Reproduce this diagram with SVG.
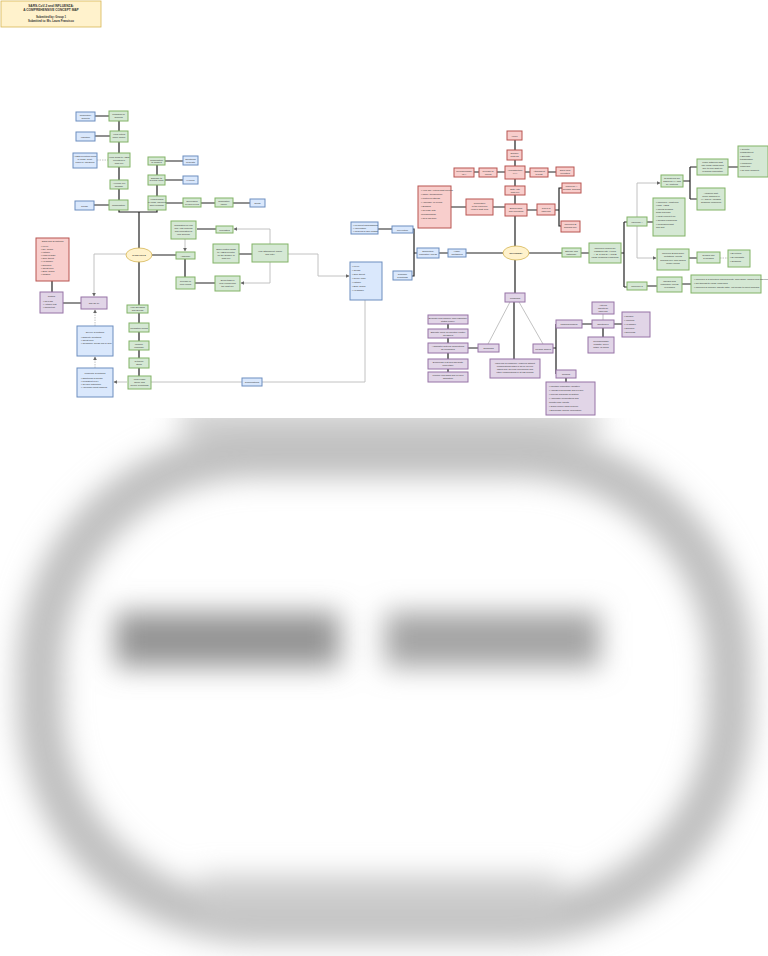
<svg xmlns="http://www.w3.org/2000/svg" width="768" height="956" viewBox="0 0 768 956">
<style>
.g{fill:#d5e8d4;stroke:#82b366;stroke-width:1}
.b{fill:#dae8fc;stroke:#6c8ebf;stroke-width:1}
.r{fill:#f8cecc;stroke:#b85450;stroke-width:1}
.p{fill:#e1d5e7;stroke:#9673a6;stroke-width:1}
.y{fill:#fff2cc;stroke:#d6b656;stroke-width:0.8}
text{font-family:"Liberation Sans",Arial,sans-serif;font-size:2.3px;fill:#333;text-anchor:middle}
.l{text-anchor:start}
.c{stroke:#222;stroke-width:1.2;fill:none}
.cg{stroke:#bbb;stroke-width:0.9;fill:none}
.cd{stroke:#bbb;stroke-width:0.9;fill:none;stroke-dasharray:1.5 1}
</style>
<defs>
<marker id="a" viewBox="0 0 6 6" refX="5" refY="3" markerWidth="4" markerHeight="4" orient="auto"><path d="M0,0 L6,3 L0,6 z" fill="#666"/></marker>
<filter id="bl" x="-20%" y="-20%" width="140%" height="140%"><feGaussianBlur stdDeviation="14"/></filter>
<clipPath id="lower"><rect x="0" y="418" width="768" height="538"/></clipPath>
</defs>
<rect width="768" height="956" fill="#fff"/>
<g id="background-blur" clip-path="url(#lower)"><g filter="url(#bl)">
<rect x="180" y="405" width="420" height="32" fill="#d2d2d2"/>
<rect x="40" y="455" width="690" height="465" rx="215" fill="none" stroke="#c0c0c0" stroke-width="46"/>
<rect x="115" y="612" width="225" height="55" fill="#949494"/>
<rect x="385" y="612" width="215" height="55" fill="#a4a4a4"/>
<rect x="200" y="875" width="360" height="40" fill="#cdcdcd"/>
</g></g>
<g id="title"><rect class="y" x="1" y="1" width="100" height="26"/>
<text x="51" y="7" style="font-weight:bold;font-size:3.2px">SARS-CoV-2 and INFLUENZA:</text>
<text x="51" y="11" style="font-weight:bold;font-size:3.2px">A COMPREHENSIVE CONCEPT MAP</text>
<text x="51" y="18" style="font-weight:bold;font-size:2.8px">Submitted by: Group 1</text>
<text x="51" y="22" style="font-weight:bold;font-size:2.8px">Submitted to: Ms. Laura Francisco</text></g>
<g id="connectors">
<path class="c" d="M95,116H109M95,136H110M119,121V131M119,142V153M119,167V180M119,189V200M94,205H109M157,165V175M157,185V196M119,210V212H157V210M139,212V248"/>
<path class="cd" d="M97,160H108"/>
<path class="c" d="M165,161H183M165,180H183M166,203H183M201,203H215M233,203H250"/>
<path class="c" d="M152,255H176M216,229H197M185,259V277M239,254H252M215,283H195"/>
<path class="cg" d="M185,239V251" marker-end="url(#a)"/>
<path class="cg" d="M270,244V229H234" marker-end="url(#a)"/>
<path class="cg" d="M270,262V283H241" marker-end="url(#a)"/>
<path class="cg" d="M288,254H318V276H349" marker-end="url(#a)"/>
<path class="cg" d="M126,254H94V296" marker-end="url(#a)"/>
<path class="c" d="M52,281V292M63,303H81"/>
<path class="cd" d="M95,326V310" marker-end="url(#a)"/>
<path class="cd" d="M95,368V357" marker-end="url(#a)"/>
<path class="cg" d="M127,382H114" marker-end="url(#a)"/>
<path class="c" d="M139,261V305M139,313V323M139,332V341M139,350V358M139,368V376"/>
<path class="cg" d="M151,382H242M262,382H365V300"/>
<path class="c" d="M378,229H392M413,229H414V276H412M414,253H417M439,253H448M466,253H503"/>
<path class="c" d="M451,207H466M493,207H505M515,140V150M515,160V166M474,172H479M497,172H505M525,172H530M548,172H556M515,179V186M515,195V204M515,216V247M527,210H537M555,210H559V188H562M559,210V226H561"/>
<path class="c" d="M529,253H562M581,253H589M621,253H624M624,222V287M624,222H627M624,287H627"/>
<path class="cg" d="M637,217V183H660" marker-end="url(#a)"/>
<path class="cg" d="M637,226V258H656" marker-end="url(#a)"/>
<path class="c" d="M647,222H653M683,181H690M690,167V199M690,167H697M690,199H697M728,167H738M689,258H697M647,286H657M682,284H691"/>
<path class="cd" d="M720,258H728"/>
<path class="c" d="M515,260V293M514,302V359M478,348H468M448,324V329M448,338V343M448,353V359M448,369V372M553,348H556M556,324V374M582,324H592M603,328V337M614,324H622M566,378V382"/>
<path class="cg" d="M510,302L488,344M519,302L543,344M603,314V320"/>
</g>
<g id="n1"><rect class="b" x="76" y="112" width="19" height="9"/><text x="85.5" y="116">Respiratory</text><text x="85.5" y="119">droplets</text></g>
<g id="n2"><rect class="g" x="109" y="111" width="19" height="10"/><text x="118.5" y="115">Inhalation of</text><text x="118.5" y="118">droplets</text></g>
<g id="n3"><rect class="b" x="76" y="132" width="19" height="9"/><text x="85.5" y="137.5">Ingestion</text></g>
<g id="n4"><rect class="g" x="110" y="131" width="18" height="11"/><text x="119" y="135">Virus enters</text><text x="119" y="138">upper airway</text></g>
<g id="n5"><rect class="b" x="73" y="153" width="24" height="15"/><text x="85" y="157">ACE2 receptors found</text><text x="85" y="160">in lungs, heart,</text><text x="85" y="163">kidneys, intestines</text></g>
<g id="n6"><rect class="g" x="108" y="153" width="22" height="14"/><text x="119" y="158">Virus binds to ACE2</text><text x="119" y="161">receptors in</text><text x="119" y="164">host cell</text></g>
<g id="n7"><rect class="g" x="110" y="180" width="18" height="9"/><text x="119" y="184">Alveolar cell</text><text x="119" y="187">damage</text></g>
<g id="n8"><rect class="b" x="75" y="201" width="19" height="9"/><text x="84.5" y="206.5">Cough</text></g>
<g id="n9"><rect class="g" x="109" y="200" width="19" height="10"/><text x="118.5" y="205.5">Inflammation</text></g>
<g id="n10"><rect class="g" x="148" y="157" width="17" height="8"/><text x="156.5" y="160.5">Inflammation</text><text x="156.5" y="163">of airways</text></g>
<g id="n11"><rect class="b" x="183" y="156" width="15" height="9"/><text x="190.5" y="160">Shortness</text><text x="190.5" y="163">of breath</text></g>
<g id="n12"><rect class="g" x="148" y="175" width="17" height="10"/><text x="156.5" y="178.5">Damage to</text><text x="156.5" y="181">alveolar walls</text></g>
<g id="n13"><rect class="b" x="183" y="176" width="15" height="8"/><text x="190.5" y="181">Hypoxia</text></g>
<g id="n14"><rect class="g" x="148" y="196" width="18" height="14"/><text x="157" y="200">Fluid buildup</text><text x="157" y="203">in lungs, impaired</text><text x="157" y="206">gas exchange</text></g>
<g id="n15"><rect class="g" x="183" y="198" width="18" height="9"/><text x="192" y="201.5">Decreased</text><text x="192" y="204.5">oxygen levels</text></g>
<g id="n16"><rect class="g" x="215" y="198" width="18" height="9"/><text x="224" y="201.5">Respiratory</text><text x="224" y="204.5">failure</text></g>
<g id="n17"><rect class="b" x="250" y="199" width="15" height="8"/><text x="257.5" y="204">Death</text></g>
<g id="sars"><ellipse class="y" cx="139" cy="255" rx="13" ry="7"/><text x="139" y="256" style="font-weight:bold">SARS-CoV-2</text></g>
<g id="n18"><rect class="g" x="171" y="221" width="25" height="18"/><text x="183.5" y="226">Translation of viral</text><text x="183.5" y="229">RNA into proteins</text><text x="183.5" y="232">and replication of</text><text x="183.5" y="235">viral genome</text></g>
<g id="n19"><rect class="g" x="216" y="226" width="17" height="7"/><text x="224.5" y="230.5">Uncoating</text></g>
<g id="n20"><rect class="g" x="176" y="252" width="19" height="7"/><text x="185.5" y="256.5">Assembly</text></g>
<g id="n21"><rect class="g" x="213" y="244" width="26" height="19"/><text x="226" y="250">Spike protein binds</text><text x="226" y="253">to ACE2 receptor</text><text x="226" y="256">on the surface of</text><text x="226" y="259">host cell</text></g>
<g id="n22"><rect class="g" x="252" y="244" width="36" height="18"/><text x="270" y="252">Viral attachment, fusion</text><text x="270" y="255">and entry</text></g>
<g id="n23"><rect class="g" x="176" y="277" width="19" height="12"/><text x="185.5" y="282">Release of</text><text x="185.5" y="285">new virions</text></g>
<g id="n24"><rect class="g" x="215" y="276" width="25" height="15"/><text x="227.5" y="281">Exocytosis of</text><text x="227.5" y="284">new virions from</text><text x="227.5" y="287">the host cell</text></g>
<g id="n25"><rect class="r" x="36" y="238" width="33" height="43"/><text x="52.5" y="242">Signs and Symptoms</text><text class="l" x="41" y="247">• Fever</text><text class="l" x="41" y="250">• Dry cough</text><text class="l" x="41" y="253">• Fatigue</text><text class="l" x="41" y="256">• Loss of taste</text><text class="l" x="41" y="259">• Sore throat</text><text class="l" x="41" y="262">• Headache</text><text class="l" x="41" y="266">• Diarrhea</text><text class="l" x="41" y="269">• Chest pain</text><text class="l" x="41" y="272">• Body aches</text><text class="l" x="41" y="275">• Rashes</text></g>
<g id="n26"><rect class="p" x="40" y="292" width="23" height="21"/><text x="51.5" y="297">Testing</text><text class="l" x="43" y="302">• RT-PCR</text><text class="l" x="43" y="305">• Antigen test</text><text class="l" x="43" y="308">• Rapid test</text></g>
<g id="n27"><rect class="p" x="81" y="297" width="26" height="12"/><text x="94" y="304">COVID-19</text></g>
<g id="n28"><rect class="b" x="77" y="326" width="36" height="30"/><text x="95" y="333">Severe symptoms</text><text class="l" x="81" y="338">• Difficulty breathing</text><text class="l" x="81" y="341">• Chest pain</text><text class="l" x="81" y="344">• Confusion, bluish lips or face</text></g>
<g id="n29"><rect class="b" x="77" y="368" width="36" height="29"/><text x="95" y="374">Moderate symptoms</text><text class="l" x="81" y="379">• Shortness of breath</text><text class="l" x="81" y="382">• Persistent fever</text><text class="l" x="81" y="385">• Oxygen saturation</text><text class="l" x="81" y="388">• Abnormal chest imaging</text></g>
<g id="n30"><rect class="g" x="127" y="305" width="21" height="8"/><text x="137.5" y="307.8">Viral shedding</text><text x="137.5" y="310.5">and spread</text></g>
<g id="n31"><rect class="g" x="129" y="323" width="20" height="9"/><text x="139" y="328.5">Incubation period</text></g>
<g id="n32"><rect class="g" x="129" y="341" width="20" height="9"/><text x="139" y="344.5">Immune</text><text x="139" y="347.5">response</text></g>
<g id="n33"><rect class="g" x="129" y="358" width="20" height="10"/><text x="139" y="362">Cytokine</text><text x="139" y="365">storm</text></g>
<g id="n34"><rect class="g" x="128" y="376" width="23" height="13"/><text x="139.5" y="380">Multi-organ</text><text x="139.5" y="383">failure and</text><text x="139.5" y="386">severe symptoms</text></g>
<g id="n35"><rect class="b" x="242" y="378" width="20" height="8"/><text x="252" y="383">Complications</text></g>
<g id="n36"><rect class="b" x="351" y="222" width="27" height="12"/><text class="l" x="353" y="226">• Frequent handwashing</text><text class="l" x="353" y="229">• Vaccination</text><text class="l" x="353" y="232">• Wearing of face masks</text></g>
<g id="n37"><rect class="b" x="392" y="226" width="21" height="7"/><text x="402.5" y="230.5">Prevention</text></g>
<g id="n38"><rect class="b" x="350" y="262" width="32" height="38"/><text class="l" x="352" y="267">• Fever</text><text class="l" x="352" y="271">• Cough</text><text class="l" x="352" y="275">• Sore throat</text><text class="l" x="352" y="279">• Runny nose</text><text class="l" x="352" y="283">• Fatigue</text><text class="l" x="352" y="287">• Body aches</text><text class="l" x="352" y="291">• Headache</text></g>
<g id="n39"><rect class="b" x="393" y="271" width="19" height="9"/><text x="402.5" y="275">Common</text><text x="402.5" y="278">symptoms</text></g>
<g id="n40"><rect class="b" x="417" y="248" width="22" height="10"/><text x="428" y="252">Similarities:</text><text x="428" y="255">respiratory illness</text></g>
<g id="n41"><rect class="b" x="448" y="249" width="18" height="8"/><text x="457" y="252">Highly</text><text x="457" y="255">contagious</text></g>
<g id="influenza"><ellipse class="y" cx="516" cy="253" rx="13" ry="7"/><text x="516" y="254" style="font-weight:bold">INFLUENZA</text></g>
<g id="n42"><rect class="r" x="418" y="186" width="33" height="42"/><text class="l" x="421" y="191">• Viral RNA enters host nucleus</text><text class="l" x="421" y="195">• mRNA transcription</text><text class="l" x="421" y="199">• Protein synthesis</text><text class="l" x="421" y="203">• Assembly of virions</text><text class="l" x="421" y="207">• Budding</text><text class="l" x="421" y="211">• Release with</text><text class="l" x="421" y="215">  neuraminidase</text><text class="l" x="421" y="219">• New infection</text></g>
<g id="n43"><rect class="r" x="466" y="199" width="27" height="16"/><text x="479.5" y="204">Replication</text><text x="479.5" y="207">of the influenza</text><text x="479.5" y="210">virus in host cells</text></g>
<g id="n44"><rect class="r" x="507" y="131" width="15" height="9"/><text x="514.5" y="136.5">Virion</text></g>
<g id="n45"><rect class="r" x="507" y="150" width="15" height="10"/><text x="514.5" y="154">Surface</text><text x="514.5" y="157">proteins</text></g>
<g id="n46"><rect class="r" x="454" y="168" width="20" height="9"/><text x="464" y="171.5">Neuraminidase</text><text x="464" y="174.5">(NA)</text></g>
<g id="n47"><rect class="r" x="479" y="168" width="18" height="9"/><text x="488" y="171.5">Release of</text><text x="488" y="174.5">virions</text></g>
<g id="n48"><rect class="r" x="505" y="166" width="20" height="13"/><text x="515" y="170.5">Hemagglutinin</text><text x="515" y="173.5">(HA)</text></g>
<g id="n49"><rect class="r" x="530" y="168" width="18" height="9"/><text x="539" y="171.5">Attachment</text><text x="539" y="174.5">to host</text></g>
<g id="n50"><rect class="r" x="556" y="167" width="18" height="9"/><text x="565" y="170.5">Sialic acid</text><text x="565" y="173.5">receptors</text></g>
<g id="n51"><rect class="r" x="505" y="186" width="20" height="9"/><text x="515" y="189.5">Entry into</text><text x="515" y="192.5">host cell</text></g>
<g id="n52"><rect class="r" x="505" y="204" width="22" height="12"/><text x="516" y="208.5">Endocytosis</text><text x="516" y="211.5">and uncoating</text></g>
<g id="n53"><rect class="r" x="537" y="204" width="18" height="11"/><text x="546" y="208.5">Types of</text><text x="546" y="211.5">influenza</text></g>
<g id="n54"><rect class="r" x="562" y="183" width="19" height="10"/><text x="571.5" y="187">Influenza A:</text><text x="571.5" y="190">animals, humans</text></g>
<g id="n55"><rect class="r" x="561" y="221" width="19" height="11"/><text x="570.5" y="225">Influenza B:</text><text x="570.5" y="228">humans only</text></g>
<g id="n56"><rect class="g" x="562" y="248" width="19" height="9"/><text x="571.5" y="251.5">Etiology and</text><text x="571.5" y="254.5">pathology</text></g>
<g id="n57"><rect class="g" x="589" y="243" width="32" height="20"/><text x="605" y="249">Influenza viruses are</text><text x="605" y="252">classified into 4 types</text><text x="605" y="255">A, B, C and D; A and B</text><text x="605" y="258">cause seasonal epidemics</text></g>
<g id="n58"><rect class="g" x="627" y="217" width="20" height="9"/><text x="637" y="222.5">Influenza A</text></g>
<g id="n59"><rect class="g" x="661" y="175" width="22" height="12"/><text x="672" y="179">Its subtypes are</text><text x="672" y="182">based on HA and</text><text x="672" y="185">NA proteins</text></g>
<g id="n60"><rect class="g" x="697" y="159" width="31" height="16"/><text x="712.5" y="163">Major antigenic shift</text><text x="712.5" y="166">can cause pandemics</text><text x="712.5" y="169">due to new subtype</text><text x="712.5" y="172">in human population</text></g>
<g id="n61"><rect class="g" x="697" y="188" width="28" height="22"/><text x="711" y="194">Antigenic drift:</text><text x="711" y="197">minor changes in</text><text x="711" y="200">HA and NA causing</text><text x="711" y="203">seasonal epidemics</text></g>
<g id="n62"><rect class="g" x="738" y="146" width="30" height="31"/><text class="l" x="740" y="150">• Genetic</text><text class="l" x="740" y="153">  reassortment</text><text class="l" x="740" y="157">• Zoonotic</text><text class="l" x="740" y="160">  transmission</text><text class="l" x="740" y="164">• Pandemic</text><text class="l" x="740" y="167">  outbreaks</text><text class="l" x="740" y="171">• No prior immunity</text></g>
<g id="n63"><rect class="g" x="653" y="198" width="32" height="38"/><text class="l" x="656" y="203">• Influenza A subtypes</text><text class="l" x="656" y="206">  H1N1, H3N2</text><text class="l" x="656" y="210">• Infects humans,</text><text class="l" x="656" y="213">  birds and pigs</text><text class="l" x="656" y="217">• Most virulent type</text><text class="l" x="656" y="221">• Causes pandemics</text><text class="l" x="656" y="225">• Undergoes shift</text><text class="l" x="656" y="228">  and drift</text></g>
<g id="n64"><rect class="g" x="657" y="249" width="32" height="21"/><text x="673" y="254">Influenza B has fewer</text><text x="673" y="257">mutations, infects</text><text x="673" y="261">humans only and causes</text><text x="673" y="264">milder illness</text></g>
<g id="n65"><rect class="g" x="697" y="252" width="23" height="11"/><text x="708.5" y="256">Divided into</text><text x="708.5" y="259">2 lineages</text></g>
<g id="n66"><rect class="g" x="728" y="250" width="22" height="17"/><text class="l" x="730" y="254">• B/Victoria</text><text class="l" x="730" y="258">• B/Yamagata</text><text class="l" x="730" y="262">• Seasonal</text></g>
<g id="n67"><rect class="g" x="627" y="282" width="20" height="8"/><text x="637" y="287">Influenza C</text></g>
<g id="n68"><rect class="g" x="657" y="277" width="25" height="15"/><text x="669.5" y="282">Causes mild</text><text x="669.5" y="285">respiratory illness</text><text x="669.5" y="288">in humans</text></g>
<g id="n69"><rect class="g" x="691" y="275" width="70" height="18"/><text class="l" x="694" y="280">• Influenza C is detected less frequently and usually causes mild infections</text><text class="l" x="694" y="284">• Not thought to cause epidemics</text><text class="l" x="694" y="288">• Influenza D primarily affects cattle, not known to infect humans</text></g>
<g id="n70"><rect class="p" x="505" y="293" width="20" height="9"/><text x="515" y="298.5">Prognosis</text></g>
<g id="n71"><rect class="p" x="428" y="315" width="40" height="9"/><text x="448" y="318.5">Evaluate fluid balance and respiratory</text><text x="448" y="321.5">status closely</text></g>
<g id="n72"><rect class="p" x="428" y="329" width="40" height="9"/><text x="448" y="332.5">Educate client on infection control</text><text x="448" y="335.5">measures</text></g>
<g id="n73"><rect class="p" x="428" y="343" width="40" height="10"/><text x="448" y="347">Administer antiviral medications</text><text x="448" y="350">as prescribed</text></g>
<g id="n74"><rect class="p" x="428" y="359" width="40" height="10"/><text x="448" y="363">Encourage rest and adequate</text><text x="448" y="366">fluid intake</text></g>
<g id="n75"><rect class="p" x="428" y="372" width="40" height="10"/><text x="448" y="376">Monitor vital signs and oxygen</text><text x="448" y="379">saturation</text></g>
<g id="n76"><rect class="p" x="478" y="344" width="21" height="8"/><text x="488.5" y="349">Diagnosis</text></g>
<g id="n77"><rect class="p" x="490" y="359" width="50" height="19"/><text x="515" y="364">Influenza is commonly resolved without</text><text x="515" y="367">complications within a week; severe</text><text x="515" y="370">cases may develop pneumonia and</text><text x="515" y="373">other complications in at-risk groups</text></g>
<g id="n78"><rect class="p" x="533" y="344" width="20" height="9"/><text x="543" y="349.5">Medical Orders</text></g>
<g id="n79"><rect class="p" x="556" y="320" width="26" height="8"/><text x="569" y="325">Pharmacological</text></g>
<g id="n80"><rect class="p" x="592" y="302" width="22" height="12"/><text x="603" y="306">Antiviral</text><text x="603" y="309">agents for</text><text x="603" y="312">influenza</text></g>
<g id="n81"><rect class="p" x="592" y="320" width="22" height="8"/><text x="603" y="325">Oseltamivir</text></g>
<g id="n82"><rect class="p" x="588" y="337" width="26" height="16"/><text x="601" y="342">Neuraminidase</text><text x="601" y="345">inhibitor; given</text><text x="601" y="348">within 48 hours</text></g>
<g id="n83"><rect class="p" x="622" y="312" width="28" height="25"/><text class="l" x="624" y="317">• Nausea</text><text class="l" x="624" y="321">• Vomiting</text><text class="l" x="624" y="325">• Headache</text><text class="l" x="624" y="329">• Diarrhea</text><text class="l" x="624" y="333">• Dizziness</text></g>
<g id="n84"><rect class="p" x="556" y="370" width="20" height="8"/><text x="566" y="375">Nursing</text></g>
<g id="n85"><rect class="p" x="546" y="382" width="49" height="33"/><text class="l" x="549" y="387">• Maintain respiratory isolation</text><text class="l" x="549" y="391">• Assess lung sounds and oxygen</text><text class="l" x="549" y="395">• Provide adequate hydration</text><text class="l" x="549" y="399">• Administer medications and</text><text class="l" x="549" y="403">  monitor side effects</text><text class="l" x="549" y="407">• Teach proper hand hygiene</text><text class="l" x="549" y="411">• Encourage annual vaccination</text></g>
</svg>
